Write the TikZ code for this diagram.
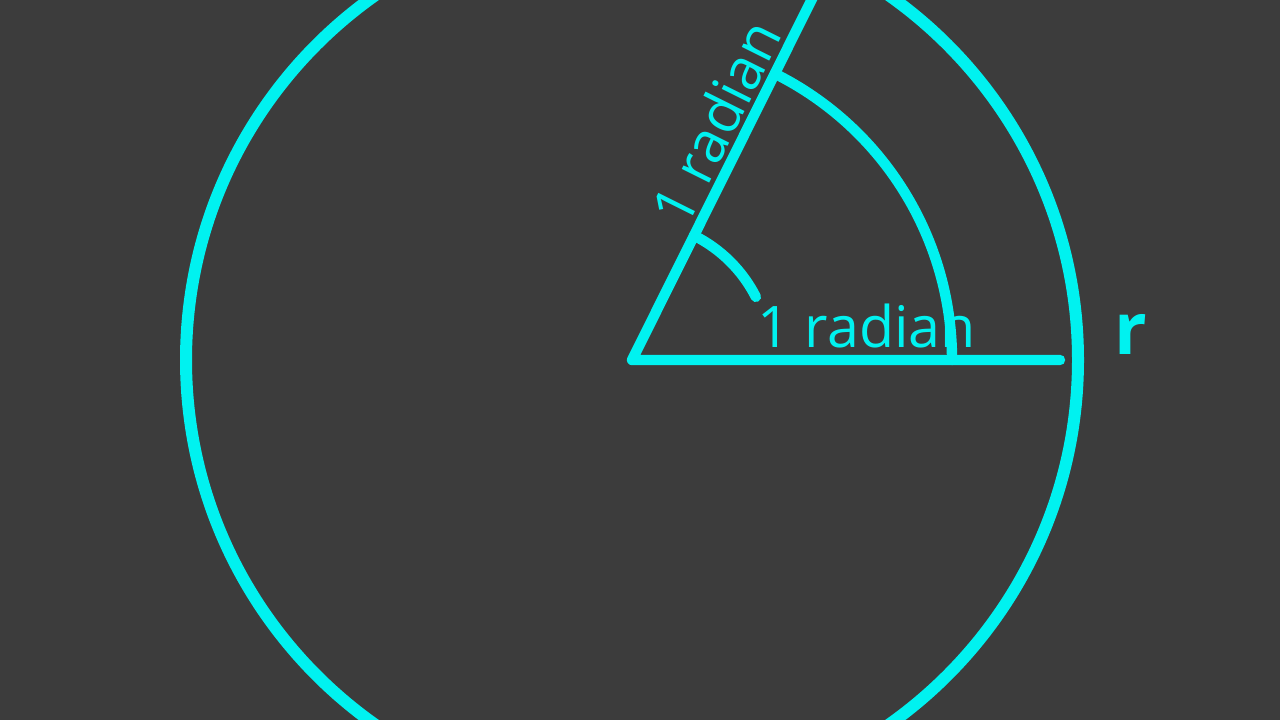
\documentclass[tikz,border=0pt]{standalone}
\usepackage{fontspec}
\setmainfont{Open Sans}
\usetikzlibrary{calc}
\definecolor{bgc}{HTML}{3C3C3C}
\definecolor{cy}{HTML}{00F2F0}
\begin{document}
\begin{tikzpicture}[x=0.75pt,y=0.75pt,
  stroke/.style={draw=cy,line width=7.8pt,line cap=round,line join=round},
  ring/.style={draw=cy,line width=9pt},
  lbl/.style={text=cy,inner sep=0pt,font=\fontsize{43}{50}\selectfont}]
\fill[bgc] (0,0) rectangle (1280,720);
\useasboundingbox (0,0) rectangle (1280,720);
\clip (0,0) rectangle (1280,720);
\coordinate (C) at (632,360);
\coordinate (H) at (1060,360);
\coordinate (S) at ($(C)+(63.5:446)$);
\draw[ring] (C) circle[radius=446];
\draw[stroke] (H) -- (C) -- (S);
\draw[stroke] ($(C)+(63.5:320)$) arc[start angle=63.5,end angle=0,radius=320];
\draw[stroke] ($(C)+(63.5:139)$) arc[start angle=63.5,end angle=27,radius=139];
\node[lbl,anchor=base west] (t1) at (757,372) {1 radian};
\coordinate (m) at ($(C)+(63.5:250)+(153.5:9)$);
\node[lbl,anchor=south,rotate=63.5] (t2) at (m) {1 radian};
\node[text=cy,inner sep=0pt,anchor=base west,font=\fontsize{54}{60}\selectfont\bfseries] (r) at (1114,365) {r};
\end{tikzpicture}
\end{document}
